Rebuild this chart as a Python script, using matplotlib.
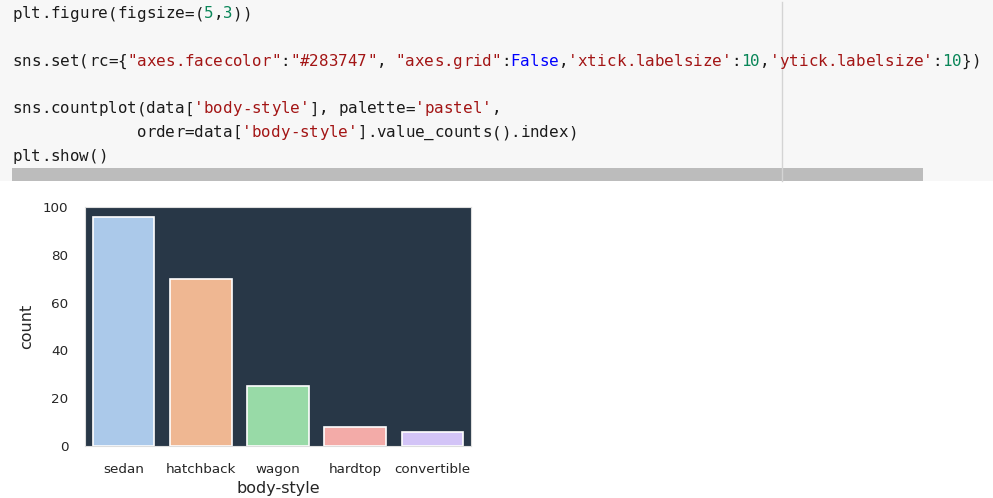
import colorsys
import matplotlib
matplotlib.use('Agg')
import matplotlib.pyplot as plt
from matplotlib.patches import Rectangle
from matplotlib.colors import to_rgb

W, H = 993, 498

# datos del grafico
body_styles = ['sedan', 'hatchback', 'wagon', 'hardtop', 'convertible']
counts = [96, 70, 25, 8, 6]
pastel = ['#a1c9f4', '#ffb482', '#8de5a1', '#ff9f9b', '#d0bbff']

# colores del codigo
C_TXT = '#1a1a1a'
C_STR = '#a31515'
C_NUM = '#098658'
C_KW = '#0000ff'

code_lines = [
    (0, [('plt.figure(figsize=(', C_TXT), ('5', C_NUM), (',', C_TXT), ('3', C_NUM), ('))', C_TXT)]),
    (2, [('sns.set(rc={', C_TXT), ('"axes.facecolor"', C_STR), (':', C_TXT), ('"#283747"', C_STR),
         (', ', C_TXT), ('"axes.grid"', C_STR), (':', C_TXT), ('False', C_KW), (',', C_TXT),
         ("'xtick.labelsize'", C_STR), (':', C_TXT), ('10', C_NUM), (',', C_TXT),
         ("'ytick.labelsize'", C_STR), (':', C_TXT), ('10', C_NUM), ('})', C_TXT)]),
    (4, [('sns.countplot(data[', C_TXT), ("'body-style'", C_STR), ('], palette=', C_TXT),
         ("'pastel'", C_STR), (',', C_TXT)]),
    (5, [('             order=data[', C_TXT), ("'body-style'", C_STR), ('].value_counts().index)', C_TXT)]),
    (6, [('plt.show()', C_TXT)]),
]


def desaturate(c, prop=0.75):
    h, l, s = colorsys.rgb_to_hls(*to_rgb(c))
    return colorsys.hls_to_rgb(h, l, s * prop)


fig = plt.figure(figsize=(W / 100, H / 100), dpi=100)
fig.patch.set_facecolor('white')

# fondo de la celda de codigo
fig.patches.append(Rectangle((0, 1 - 181 / H), 1, 181 / H, transform=fig.transFigure,
                             facecolor='#f7f7f7', edgecolor='none', zorder=0))
# barra de scroll
fig.patches.append(Rectangle((12 / W, 1 - 181 / H), (923 - 12) / W, 13 / H, transform=fig.transFigure,
                             facecolor='#bcbcbc', edgecolor='none', zorder=1))
# linea vertical (regla)
fig.lines.append(plt.Line2D([781.5 / W, 781.5 / W], [1 - 2 / H, 1 - 181 / H], transform=fig.transFigure,
                            color='#d4d4d4', linewidth=1, zorder=2))

# cada caracter en su columna, para que el ancho sea fijo
char_w = 9.59
for row, tokens in code_lines:
    y = 14 + 23.7 * row
    col = 0
    for txt, color in tokens:
        for ch in txt:
            if ch != ' ':
                fig.text((12 + col * char_w + char_w / 2) / W, 1 - y / H, ch, color=color,
                         family='DejaVu Sans Mono', fontsize=11.45, ha='center', va='center')
            col += 1

# grafico de barras
ax = fig.add_axes([85 / W, 1 - 446 / H, (471 - 85) / W, (446 - 207) / H])
ax.set_facecolor('#283747')
colors = [desaturate(c) for c in pastel]
x = range(len(body_styles))
ax.bar(x, counts, width=0.8, color=colors, edgecolor='white', linewidth=1.2)
ax.set_xlim(-0.5, len(body_styles) - 0.5)
ax.set_ylim(0, 100)
ax.set_xticks(list(x))
ax.set_xticklabels(body_styles)
ax.set_yticks([0, 20, 40, 60, 80, 100])
ax.tick_params(length=0, pad=12, labelsize=9.7, colors='#262626')
for s in ax.spines.values():
    s.set_color('#dddddd')
    s.set_linewidth(0.8)
ax.set_xlabel('body-style', fontsize=11.5, color='#262626', labelpad=4)
ax.set_ylabel('count', fontsize=11.5, color='#262626', labelpad=6)

fig.savefig('out.png', dpi=100)
